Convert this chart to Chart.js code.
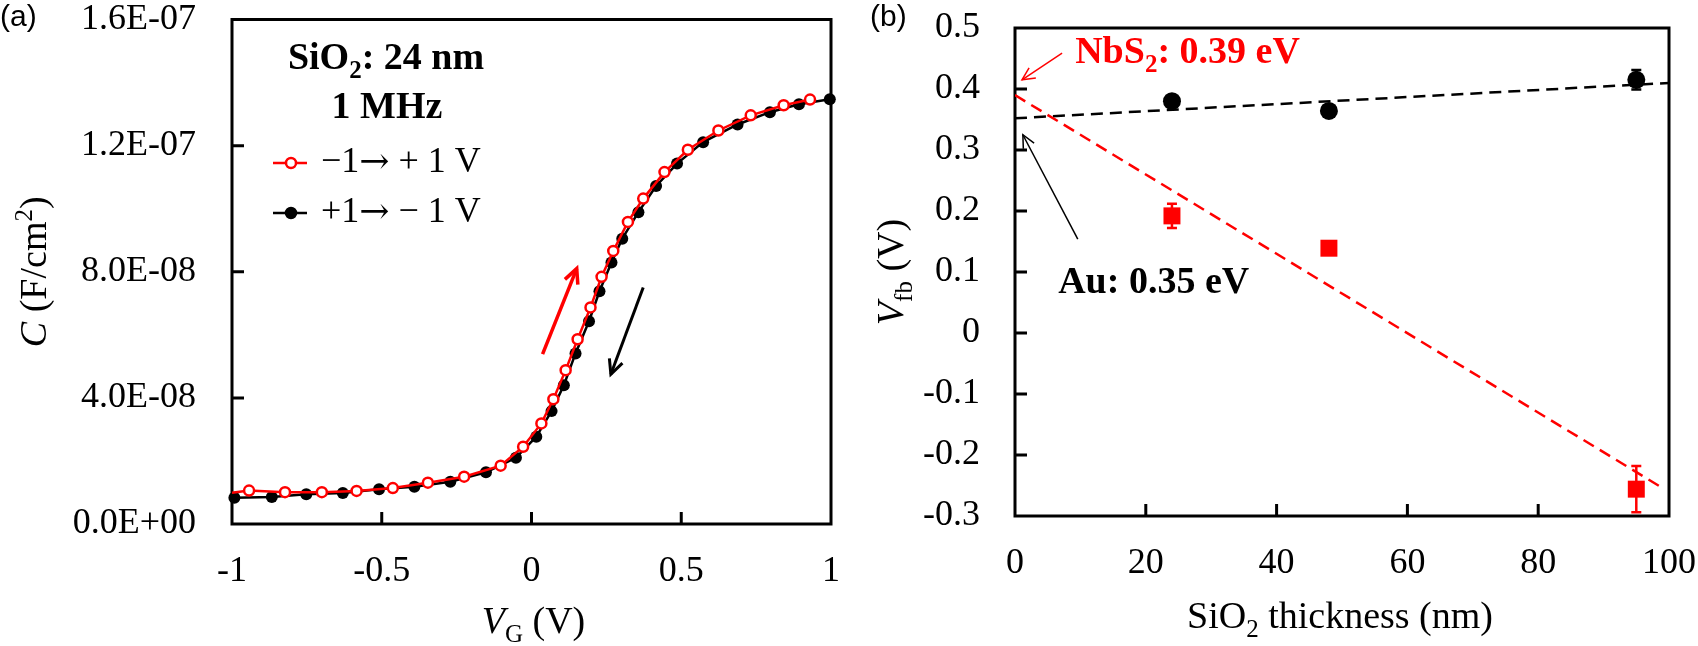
<!doctype html>
<html lang="en">
  <head>
    <meta charset="utf-8">
    <title>C-V curve and flat-band voltage</title>
    <script src="https://cdn.jsdelivr.net/npm/chart.js@4.4.0/dist/chart.umd.min.js"></script>
    <style>
      body { margin: 0; background-color: #ffffff; }
      #wrap { position: relative; width: 1698px; height: 646px; }
      #cvGraph { position: absolute; left: 0; top: 0; }
      #vfbGraph { position: absolute; left: 850px; top: 0; }
    </style>
  </head>
  <body>
  <div id="wrap">
    <canvas id="cvGraph" width="850" height="646"></canvas>
    <canvas id="vfbGraph" width="848" height="646"></canvas>
  </div>

  <script>
    // ---- panel (a): C-V sweep, -1 -> +1 V (red, open) ----
    var vUp = [-1, -0.943, -0.823, -0.70, -0.584, -0.463, -0.346, -0.225, -0.103, -0.028, 0.033, 0.073,
               0.114, 0.154, 0.197, 0.234, 0.273, 0.322, 0.373, 0.444, 0.522, 0.624, 0.732, 0.842, 0.930];
    var cUp = [0.99e-8, 1.06e-8, 1.01e-8, 1.01e-8, 1.05e-8, 1.14e-8, 1.31e-8, 1.50e-8, 1.85e-8, 2.45e-8, 3.19e-8, 3.96e-8,
               4.88e-8, 5.86e-8, 6.87e-8, 7.84e-8, 8.66e-8, 9.58e-8, 10.32e-8, 11.16e-8, 11.87e-8, 12.48e-8, 12.96e-8, 13.28e-8, 13.46e-8];
    // +1 -> -1 V (black, filled)
    var vDown = [-0.992, -0.867, -0.752, -0.630, -0.509, -0.391, -0.271, -0.152, -0.052, 0.016, 0.067, 0.108,
                 0.147, 0.192, 0.227, 0.267, 0.303, 0.357, 0.416, 0.486, 0.573, 0.688, 0.796, 0.893, 0.996];
    var cDown = [0.83e-8, 0.86e-8, 0.94e-8, 0.98e-8, 1.10e-8, 1.18e-8, 1.34e-8, 1.64e-8, 2.10e-8, 2.77e-8, 3.58e-8, 4.40e-8,
                 5.41e-8, 6.43e-8, 7.38e-8, 8.29e-8, 9.05e-8, 9.89e-8, 10.72e-8, 11.43e-8, 12.11e-8, 12.67e-8, 13.06e-8, 13.31e-8, 13.47e-8];
    var xTicksA = [-1, -0.5, 0, 0.5, 1];
    var xLabelsA = ['-1', '-0.5', '0', '0.5', '1'];
    var yTicksA = [0, 4e-8, 8e-8, 1.2e-7, 1.6e-7];
    var yLabelsA = ['0.0E+00', '4.0E-08', '8.0E-08', '1.2E-07', '1.6E-07'];
    // sweep direction arrows [x1, y1, x2, y2]
    var upArrow = [0.037, 5.39e-8, 0.151, 8.1e-8];
    var downArrow = [0.373, 7.50e-8, 0.265, 4.75e-8];

    // ---- panel (b): Vfb vs SiO2 thickness ----
    var thick = [24, 48, 95];
    var vfbAu = [0.380, 0.364, 0.415];
    var errAu = [0, 0, 0.016];
    var vfbNb = [0.192, 0.139, -0.256];
    var errNb = [0.02, 0.008, 0.038];
    var fitAuX = [0, 100];
    var fitAuY = [0.352, 0.410];
    var fitNbX = [0, 99];
    var fitNbY = [0.39, -0.254];
    var xTicksB = [0, 20, 40, 60, 80, 100];
    var xLabelsB = ['0', '20', '40', '60', '80', '100'];
    var yTicksB = [-0.3, -0.2, -0.1, 0, 0.1, 0.2, 0.3, 0.4, 0.5];
    var yLabelsB = ['-0.3', '-0.2', '-0.1', '0', '0.1', '0.2', '0.3', '0.4', '0.5'];
    // annotation anchors (data units)
    var nbLabelAt = [9.2, 0.443];
    var auLabelAt = [6.6, 0.066];
    var nbArrow = [7.2, 0.459, 1.07, 0.415];
    var auArrow = [9.6, 0.154, 1.2, 0.325];

    var SERIF = '"Liberation Serif", "Times New Roman", serif';
    function F(style, size) { return style + ' ' + size + 'px ' + SERIF; }
    var ARROWFONT = '36px "DejaVu Serif", serif';

    function drawRuns(ctx, runs, x, y, align) {
      let w = 0;
      runs.forEach(function(r) { ctx.font = r[1]; w += ctx.measureText(r[0]).width; });
      let cx = align === 'center' ? x - w / 2 : x;
      ctx.textAlign = 'left';
      ctx.textBaseline = 'alphabetic';
      runs.forEach(function(r) {
        ctx.font = r[1];
        ctx.fillText(r[0], cx, y + (r[2] || 0));
        cx += ctx.measureText(r[0]).width;
      });
    }

    function arrow(ctx, x1, y1, x2, y2, color, lw, head) {
      ctx.save();
      ctx.strokeStyle = color;
      ctx.lineWidth = lw;
      ctx.beginPath(); ctx.moveTo(x1, y1); ctx.lineTo(x2, y2); ctx.stroke();
      let a = Math.atan2(y2 - y1, x2 - x1);
      ctx.beginPath();
      ctx.moveTo(x2 - head * Math.cos(a - 0.45), y2 - head * Math.sin(a - 0.45));
      ctx.lineTo(x2, y2);
      ctx.lineTo(x2 - head * Math.cos(a + 0.45), y2 - head * Math.sin(a + 0.45));
      ctx.stroke();
      ctx.restore();
    }

    // box frame + inward tick marks
    const framePlugin = {
      id: 'frame',
      beforeDatasetsDraw(chart) {
        const ctx = chart.ctx, ca = chart.chartArea;
        const sx = chart.scales.x, sy = chart.scales.y;
        ctx.save();
        ctx.strokeStyle = '#000';
        ctx.lineWidth = 3;
        ctx.strokeRect(ca.left, ca.top, ca.right - ca.left, ca.bottom - ca.top);
        ctx.beginPath();
        sx.ticks.forEach(function(t) {
          let px = sx.getPixelForValue(t.value);
          if (px > ca.left + 2 && px < ca.right - 2) { ctx.moveTo(px, ca.bottom); ctx.lineTo(px, ca.bottom - 12); }
        });
        sy.ticks.forEach(function(t) {
          let py = sy.getPixelForValue(t.value);
          if (py > ca.top + 2 && py < ca.bottom - 2) { ctx.moveTo(ca.left, py); ctx.lineTo(ca.left + 12, py); }
        });
        ctx.stroke();
        ctx.restore();
      }
    };

    // label gap is made with an invisible tick length so it does not shrink the plot area
    function axisOpts(tickVals, tickLabels, gap, fitFn) {
      return {
        type: 'linear',
        min: tickVals[0],
        max: tickVals[tickVals.length - 1],
        afterBuildTicks: function(s) { s.ticks = tickVals.map(function(v) { return { value: v }; }); },
        ticks: {
          padding: 0,
          color: '#000',
          font: { family: SERIF, size: 36, lineHeight: 1 },
          callback: function(v, i) { return tickLabels[i]; }
        },
        grid: { display: true, drawOnChartArea: false, drawTicks: true, tickLength: gap,
                color: 'rgba(0,0,0,0)', tickColor: 'rgba(0,0,0,0)' },
        border: { display: false },
        afterFit: fitFn
      };
    }

    // ---------- chart (a) ----------
    const cvPlugin = {
      id: 'cvNotes',
      afterDraw(chart) {
        const ctx = chart.ctx, ca = chart.chartArea;
        const sx = chart.scales.x, sy = chart.scales.y;
        ctx.save();
        ctx.fillStyle = '#000';
        // panel letter
        ctx.font = '30px "Liberation Sans", Arial, sans-serif';
        ctx.textAlign = 'left'; ctx.textBaseline = 'alphabetic';
        ctx.fillText('(a)', 0, 26);
        // header
        drawRuns(ctx, [['SiO', F('bold', 38)], ['2', F('bold', 25), 9], [': 24 nm', F('bold', 38)]], ca.left + 154, ca.top + 49, 'center');
        drawRuns(ctx, [['1 MHz', F('bold', 38)]], ca.left + 155, ca.top + 98, 'center');
        // legend
        let rows = [
          { y: ca.top + 143.5, color: '#ff0000', fill: '#ffffff', a: '\u22121', b: ' + 1 V' },
          { y: ca.top + 193.5, color: '#000000', fill: '#000000', a: '+1', b: ' \u2212 1 V' }
        ];
        rows.forEach(function(r) {
          ctx.strokeStyle = r.color; ctx.lineWidth = 2.5;
          ctx.beginPath(); ctx.moveTo(ca.left + 41, r.y); ctx.lineTo(ca.left + 75, r.y); ctx.stroke();
          ctx.beginPath(); ctx.arc(ca.left + 59, r.y, 5, 0, Math.PI * 2);
          ctx.fillStyle = r.fill; ctx.fill(); ctx.stroke();
          ctx.fillStyle = '#000';
          drawRuns(ctx, [[r.a, F('', 36)], ['\u2192', ARROWFONT, 1], [r.b, F('', 36)]], ca.left + 89, r.y + 9, 'left');
        });
        // sweep arrows
        arrow(ctx, sx.getPixelForValue(upArrow[0]), sy.getPixelForValue(upArrow[1]),
              sx.getPixelForValue(upArrow[2]), sy.getPixelForValue(upArrow[3]), '#ff0000', 3.5, 16);
        arrow(ctx, sx.getPixelForValue(downArrow[0]), sy.getPixelForValue(downArrow[1]),
              sx.getPixelForValue(downArrow[2]), sy.getPixelForValue(downArrow[3]), '#000000', 3, 16);
        // axis titles
        ctx.fillStyle = '#000';
        drawRuns(ctx, [['V', F('italic', 38)], ['G', F('', 25), 9], [' (V)', F('', 38)]], (ca.left + ca.right) / 2 + 2, 633, 'center');
        ctx.translate(46, (ca.top + ca.bottom) / 2);
        ctx.rotate(-Math.PI / 2);
        drawRuns(ctx, [['C', F('italic', 38)], [' (F/cm', F('', 38)], ['2', F('', 25), -14], [')', F('', 38)]], 0, 0, 'center');
        ctx.restore();
      }
    };

    var cvChart = new Chart(document.getElementById('cvGraph'), {
      type: 'line',
      data: {
        datasets: [{
          label: '\u22121\u2192 + 1 V',
          data: vUp.map(function(v, i) { return { x: v, y: cUp[i] }; }),
          borderColor: '#ff0000',
          backgroundColor: '#ffffff',
          borderWidth: 2.5,
          pointRadius: vUp.map(function(v, i) { return i === 0 ? 0 : 5; }),
          pointBorderWidth: 2.5,
          pointBackgroundColor: '#ffffff',
          pointBorderColor: '#ff0000',
          clip: false
        },
        {
          label: '+1\u2192 \u2212 1 V',
          data: vDown.map(function(v, i) { return { x: v, y: cDown[i] }; }),
          borderColor: '#000000',
          backgroundColor: '#000000',
          borderWidth: 2.5,
          pointRadius: 6,
          pointBorderWidth: 0,
          pointBackgroundColor: '#000000',
          clip: false
        }]
      },
      options: {
        responsive: false,
        animation: false,
        layout: { padding: { top: 19.5, right: 19, left: 0, bottom: 0 } },
        plugins: { legend: { display: false }, tooltip: { enabled: false } },
        scales: {
          x: axisOpts(xTicksA, xLabelsA, 29.5, function(s) { s.height = 122; }),
          y: axisOpts(yTicksA, yLabelsA, 36, function(s) { s.width = 232; })
        }
      },
      plugins: [framePlugin, cvPlugin]
    });

    // ---------- chart (b) ----------
    const vfbPlugin = {
      id: 'vfbNotes',
      beforeDatasetsDraw(chart) {
        const ctx = chart.ctx, sx = chart.scales.x, sy = chart.scales.y;
        ctx.save();
        ctx.lineWidth = 2.5;
        function bars(vals, errs, color) {
          ctx.strokeStyle = color;
          thick.forEach(function(t, i) {
            if (!errs[i]) return;
            let px = sx.getPixelForValue(t);
            let yt = sy.getPixelForValue(vals[i] + errs[i]);
            let yb = sy.getPixelForValue(vals[i] - errs[i]);
            ctx.beginPath();
            ctx.moveTo(px, yt); ctx.lineTo(px, yb);
            ctx.moveTo(px - 5, yt); ctx.lineTo(px + 5, yt);
            ctx.moveTo(px - 5, yb); ctx.lineTo(px + 5, yb);
            ctx.stroke();
          });
        }
        bars(vfbAu, errAu, '#000000');
        bars(vfbNb, errNb, '#ff0000');
        ctx.restore();
      },
      afterDraw(chart) {
        const ctx = chart.ctx, ca = chart.chartArea;
        const sx = chart.scales.x, sy = chart.scales.y;
        ctx.save();
        ctx.fillStyle = '#000';
        ctx.font = '30px "Liberation Sans", Arial, sans-serif';
        ctx.textAlign = 'left'; ctx.textBaseline = 'alphabetic';
        ctx.fillText('(b)', 20, 26);
        // NbS2 note
        ctx.fillStyle = '#ff0000';
        drawRuns(ctx, [['NbS', F('bold', 38)], ['2', F('bold', 25), 9], [': 0.39 eV', F('bold', 38)]],
                 sx.getPixelForValue(nbLabelAt[0]), sy.getPixelForValue(nbLabelAt[1]), 'left');
        arrow(ctx, sx.getPixelForValue(nbArrow[0]), sy.getPixelForValue(nbArrow[1]),
              sx.getPixelForValue(nbArrow[2]), sy.getPixelForValue(nbArrow[3]), '#ff0000', 1.5, 14);
        // Au note
        ctx.fillStyle = '#000';
        drawRuns(ctx, [['Au: 0.35 eV', F('bold', 38)]],
                 sx.getPixelForValue(auLabelAt[0]), sy.getPixelForValue(auLabelAt[1]), 'left');
        arrow(ctx, sx.getPixelForValue(auArrow[0]), sy.getPixelForValue(auArrow[1]),
              sx.getPixelForValue(auArrow[2]), sy.getPixelForValue(auArrow[3]), '#000000', 1.5, 14);
        // axis titles
        drawRuns(ctx, [['SiO', F('', 38)], ['2', F('', 25), 9], [' thickness (nm)', F('', 38)]], (ca.left + ca.right) / 2 - 2, 628, 'center');
        ctx.translate(53, (ca.top + ca.bottom) / 2);
        ctx.rotate(-Math.PI / 2);
        drawRuns(ctx, [['V', F('italic', 38)], ['fb', F('', 25), 9], [' (V)', F('', 38)]], 0, 0, 'center');
        ctx.restore();
      }
    };

    var vfbChart = new Chart(document.getElementById('vfbGraph'), {
      type: 'line',
      data: {
        datasets: [{
          label: 'NbS2',
          data: thick.map(function(t, i) { return { x: t, y: vfbNb[i] }; }),
          showLine: false,
          pointStyle: 'rect',
          pointRadius: 12,
          pointBorderWidth: 0,
          pointBackgroundColor: '#ff0000',
          clip: false
        },
        {
          label: 'Au',
          data: thick.map(function(t, i) { return { x: t, y: vfbAu[i] }; }),
          showLine: false,
          pointRadius: 9,
          pointBorderWidth: 0,
          pointBackgroundColor: '#000000',
          clip: false
        },
        {
          label: 'NbS2 fit',
          data: fitNbX.map(function(x, i) { return { x: x, y: fitNbY[i] }; }),
          borderColor: '#ff0000',
          borderWidth: 2.5,
          borderDash: [12, 7],
          pointRadius: 0
        },
        {
          label: 'Au fit',
          data: fitAuX.map(function(x, i) { return { x: x, y: fitAuY[i] }; }),
          borderColor: '#000000',
          borderWidth: 2.5,
          borderDash: [12, 7],
          pointRadius: 0
        }]
      },
      options: {
        responsive: false,
        animation: false,
        layout: { padding: { top: 28, right: 29, left: 0, bottom: 0 } },
        plugins: { legend: { display: false }, tooltip: { enabled: false } },
        scales: {
          x: axisOpts(xTicksB, xLabelsB, 29.5, function(s) { s.height = 130; }),
          y: axisOpts(yTicksB, yLabelsB, 35, function(s) { s.width = 165; })
        }
      },
      plugins: [framePlugin, vfbPlugin]
    });
  </script>
  </body>
</html>
